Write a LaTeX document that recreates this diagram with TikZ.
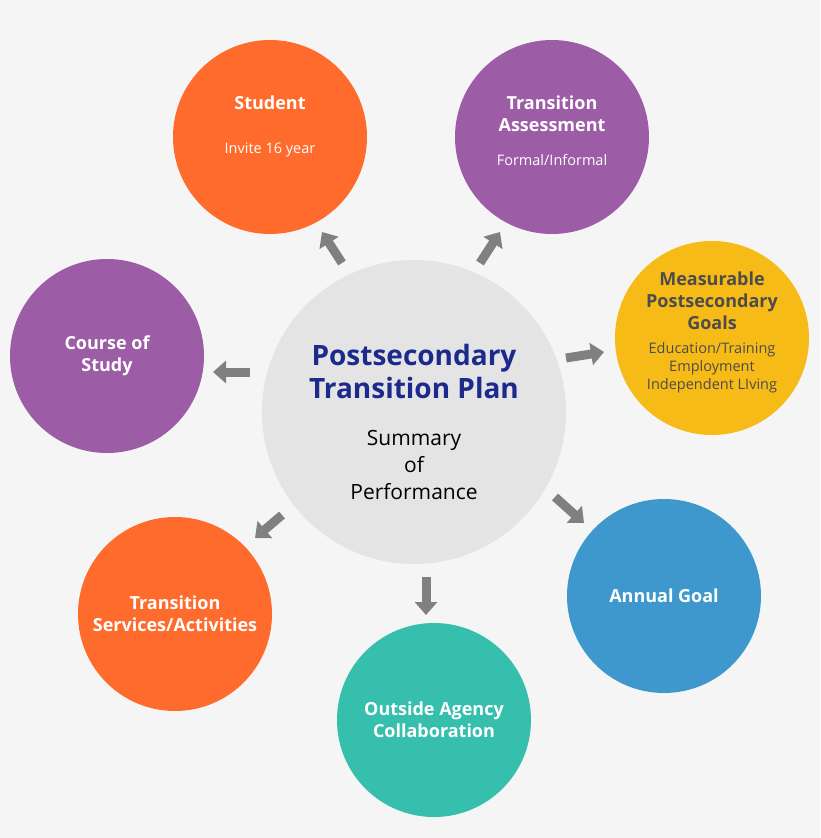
\documentclass[tikz,border=0pt]{standalone}
\usepackage{fontspec}
\setmainfont{Open Sans}
\usetikzlibrary{arrows.meta}
\definecolor{bg}{HTML}{F5F5F5}
\definecolor{corange}{HTML}{FF6B2C}
\definecolor{cpurple}{HTML}{9C5CA6}
\definecolor{cyellow}{HTML}{F7BB17}
\definecolor{cblue}{HTML}{3E98CD}
\definecolor{cteal}{HTML}{37BFAE}
\definecolor{ccenter}{HTML}{E4E4E4}
\definecolor{ctitle}{HTML}{1B2A8C}
\definecolor{carrow}{HTML}{808080}
\begin{document}
\begin{tikzpicture}[x=1pt,y=-1pt,
  sat/.style={circle,minimum size=194pt,inner sep=0pt,text=white,align=center,font=\fontsize{18}{22}\selectfont\bfseries},
  sub/.style={font=\fontsize{14.5}{18}\selectfont},
  arr/.style={carrow,line width=9pt,-{Triangle[width=22pt,length=13pt]}}]
\fill[bg] (0,0) rectangle (820,838);
\useasboundingbox (0,0) rectangle (820,838);
\node[circle,fill=ccenter,minimum size=304pt,inner sep=0pt] (c) at (414,412) {};
\node[align=center,text=ctitle,font=\fontsize{28}{33}\selectfont\bfseries] (ct) at (414,371) {Postsecondary\\Transition Plan};
\node[align=center,font=\fontsize{21}{27}\selectfont] (cs) at (414,465) {Summary\\of\\Performance};
\node[sat,fill=corange] (s) at (270,137) {};
\node[text=white,align=center,font=\fontsize{18}{22}\selectfont\bfseries] (st) at (270,103) {Student};
\node[text=white,sub] (ss) at (270,150) {Invite 16 year};
\node[sat,fill=cpurple] (a) at (552,137) {};
\node[text=white,align=center,font=\fontsize{18}{22}\selectfont\bfseries] (at) at (552,114) {Transition\\Assessment};
\node[text=white,sub] (as) at (552,160) {Formal/Informal};
\node[sat,fill=cyellow] (m) at (712,338) {};
\node[text=black!70,align=center,font=\fontsize{18}{22}\selectfont\bfseries] (mt) at (712,301) {Measurable\\Postsecondary\\Goals};
\node[text=black!70,align=center,font=\fontsize{14.5}{18}\selectfont] (ms) at (712,368) {Education/Training\\Employment\\Independent LIving};
\node[sat,fill=cpurple] (cs2) at (107,356) {Course of\\Study};
\node[sat,fill=corange] (t) at (175,614) {Transition\\Services/Activities};
\node[sat,fill=cteal] (o) at (434,720) {Outside Agency\\Collaboration};
\node[sat,fill=cblue] (g) at (664,596) {Annual Goal};
\coordinate (a1s) at (342,263); \coordinate (a1e) at (322,232);
\coordinate (a2s) at (480,263); \coordinate (a2e) at (500,232);
\coordinate (a3s) at (566,358); \coordinate (a3e) at (604,352);
\coordinate (a4s) at (250,372); \coordinate (a4e) at (213,372);
\coordinate (a5s) at (282,515); \coordinate (a5e) at (255,538);
\coordinate (a6s) at (426,577); \coordinate (a6e) at (426,615);
\coordinate (a7s) at (555,497); \coordinate (a7e) at (584,523);
\draw[arr] (a1s) -- (a1e);
\draw[arr] (a2s) -- (a2e);
\draw[arr] (a3s) -- (a3e);
\draw[arr] (a4s) -- (a4e);
\draw[arr] (a5s) -- (a5e);
\draw[arr] (a6s) -- (a6e);
\draw[arr] (a7s) -- (a7e);
\end{tikzpicture}
\end{document}
